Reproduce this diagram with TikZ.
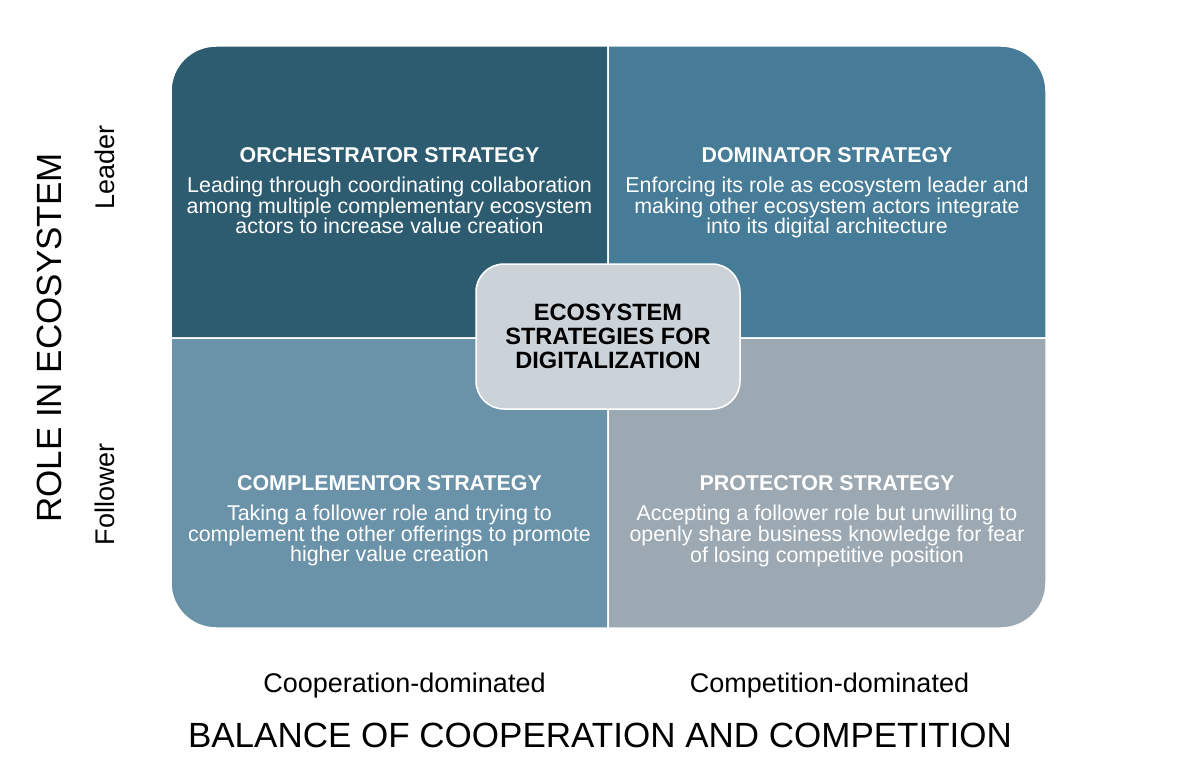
\documentclass[tikz,border=0pt]{standalone}
\usepackage{fontspec}
\setmainfont{Liberation Sans}
\definecolor{qTL}{HTML}{2D5C71}
\definecolor{qTR}{HTML}{467C97}
\definecolor{qBL}{HTML}{6A93AA}
\definecolor{qBR}{HTML}{9CA9B2}
\definecolor{cbox}{HTML}{CCD3D8}
\begin{document}
\begin{tikzpicture}[x=1bp,y=-1bp,
  quad/.style={fill=#1, draw=white, line width=1.5bp},
  qtitle/.style={anchor=base, inner sep=0pt, text=white, font=\bfseries\fontsize{21.4bp}{21bp}\selectfont},
  qbody/.style={anchor=north, inner sep=0pt, text=white, align=center, font=\fontsize{21.4bp}{20.8bp}\selectfont},
  axislabel/.style={inner sep=0pt, anchor=base, font=\fontsize{35bp}{40bp}\selectfont},
  ticklabel/.style={inner sep=0pt, anchor=base, font=\fontsize{27bp}{30bp}\selectfont},
  centerbox/.style={fill=cbox, draw=white, line width=1.5bp, rounded corners=28bp,
    minimum width=264bp, minimum height=145bp, align=center, inner sep=0pt,
    font=\bfseries\fontsize{23.6bp}{23.8bp}\selectfont}]
\useasboundingbox (0,0) rectangle (1200,782);
\fill[white] (0,0) rectangle (1200,782);

% quadrants
\path[quad=qTL] (608,338) -- (171,338) -- (171,91) arc[start angle=180,end angle=270,radius=45] -- (608,46) -- cycle;
\path[quad=qTR] (608,338) -- (608,46) -- (1001,46) arc[start angle=270,end angle=360,radius=45] -- (1046,338) -- cycle;
\path[quad=qBL] (608,338) -- (171,338) -- (171,583) arc[start angle=180,end angle=90,radius=45] -- (216,628) -- (608,628) -- cycle;
\path[quad=qBR] (608,338) -- (1046,338) -- (1046,583) arc[start angle=0,end angle=90,radius=45] -- (1001,628) -- (608,628) -- cycle;

% quadrant texts
\node[qtitle] (tlT) at (389.5,162) {ORCHESTRATOR STRATEGY};
\node[qbody]  (tlB) at (389.5,176.5) {Leading through coordinating collaboration\\among multiple complementary ecosystem\\actors to increase value creation};

\node[qtitle] (trT) at (827,162) {DOMINATOR STRATEGY};
\node[qbody]  (trB) at (827,176.5) {Enforcing its role as ecosystem leader and\\making other ecosystem actors integrate\\into its digital architecture};

\node[qtitle] (blT) at (389.5,490) {COMPLEMENTOR STRATEGY};
\node[qbody]  (blB) at (389.5,504.5) {Taking a follower role and trying to\\complement the other offerings to promote\\higher value creation};

\node[qtitle] (brT) at (827,490.5) {PROTECTOR STRATEGY};
\node[qbody]  (brB) at (827,505) {Accepting a follower role but unwilling to\\openly share business knowledge for fear\\of losing competitive position};

% center
\node[centerbox] (center) at (608,336.5) {ECOSYSTEM\\STRATEGIES FOR\\DIGITALIZATION};

% axis labels
\node[axislabel, rotate=90] (yaxis) at (61.5,338) {ROLE IN ECOSYSTEM};
\node[ticklabel, rotate=90] (leader) at (114,167.5) {Leader};
\node[ticklabel, rotate=90] (follower) at (114,494) {Follower};

\node[ticklabel] (coop) at (404.5,692) {Cooperation-dominated};
\node[ticklabel] (comp) at (829.5,692) {Competition-dominated};
\node[axislabel] (xaxis) at (600,747) {BALANCE OF COOPERATION AND COMPETITION};
\end{tikzpicture}
\end{document}
